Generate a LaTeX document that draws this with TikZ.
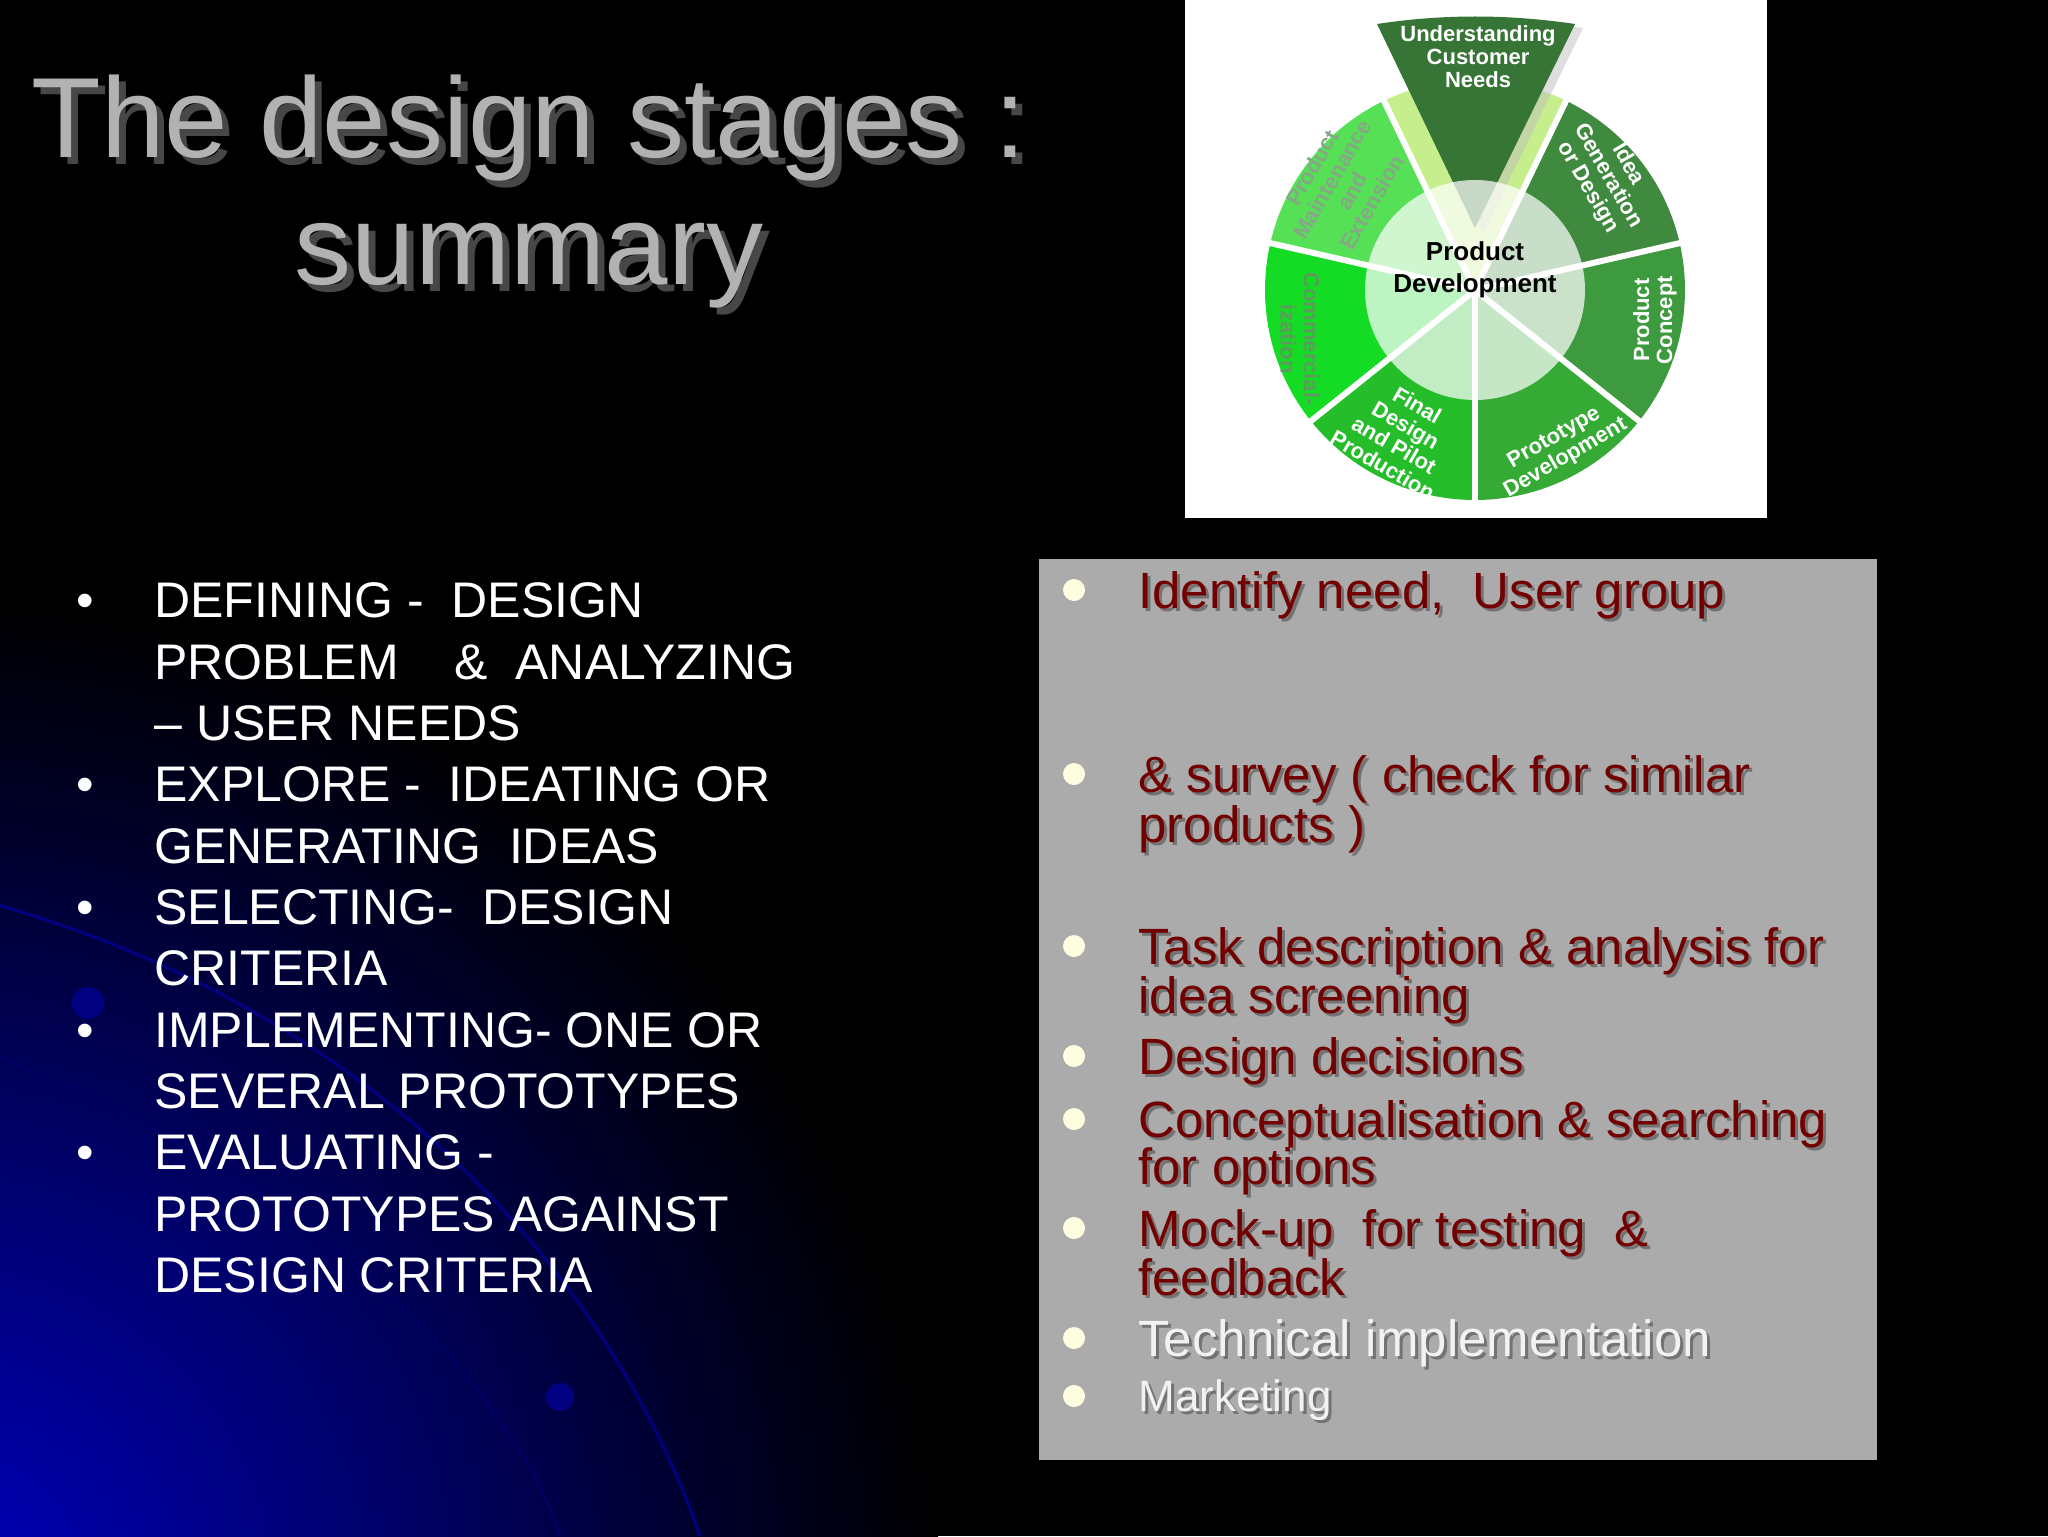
\documentclass[tikz,border=0pt]{standalone}
\usepackage{fontspec}
\setmainfont{Liberation Sans}
\begin{document}
\begin{tikzpicture}[x=0.5pt,y=-0.5pt,
  lt/.style={anchor=base west,text=white,font=\fontsize{25}{30}\selectfont,inner sep=0},
  lb/.style={anchor=base,text=white,font=\fontsize{25}{30}\selectfont,inner sep=0},
  rt/.style={anchor=base west,text=red!45!black,font=\fontsize{25.5}{30}\selectfont,inner sep=0},
  rb/.style={circle,fill=yellow!12,inner sep=0,minimum size=11pt},
  wl/.style={font=\bfseries\fontsize{11}{11.5}\selectfont,align=center,inner sep=0,text=white}]
\definecolor{mt}{HTML}{86A886}\definecolor{ct}{HTML}{5E9A5E}
\useasboundingbox (0,0) rectangle (2048,1536);
\fill[black] (0,0) rectangle (2048,1536);
\begin{scope}
\clip (0,0) rectangle (2048,1536);
\shade[inner color=blue!75!black,outer color=black] (-60,1600) circle[radius=500pt];
\draw[blue!50!black,line width=1.5pt] (-20,900) .. controls (350,1000) and (600,1250) .. (700,1536);
\draw[blue!40!black,line width=1pt] (-20,1050) .. controls (250,1150) and (500,1350) .. (560,1536);
\fill[blue!50!black] (88,1003) circle[radius=8pt];
\fill[blue!50!black] (560,1397) circle[radius=7pt];
\end{scope}
% title
\foreach \x/\y/\c in {7/7/black!72,0/0/black!30}{
\node[text=\c,font=\fontsize{57}{60}\selectfont,inner sep=0] at (529+\x,128+\y) {The design stages :};
\node[text=\c,font=\fontsize{57}{60}\selectfont,inner sep=0] at (529+\x,266+\y) {summary};
}
% left bullets
\foreach \y/\t in {599/{DEFINING -\ \ DESIGN},661/{PROBLEM\ \ \ \ \&\ \ ANALYZING},722/{– USER NEEDS},783/{EXPLORE -\ \ IDEATING OR},845/{GENERATING\ \ IDEAS},906/{SELECTING-\ \ DESIGN},967/{CRITERIA},1029/{IMPLEMENTING- ONE OR},1090/{SEVERAL PROTOTYPES},1151/{EVALUATING -},1213/{PROTOTYPES AGAINST},1274/{DESIGN CRITERIA}}{
\node[lt] at (154,\y+18) {\t};}
\foreach \y/\n in {599/b1,783/b2,906/b3,1029/b4,1151/b5}{\node[lb] (\n) at (85,\y+18) {•};}
% right box
\fill[black!33] (1039,559) rectangle (1877,1460);
\foreach \y/\n in {590/r1,774/r2,946/r3,1056/r4,1119/r5,1228/r6,1338/r7,1396/r8}{\node[rb] (\n) at (1074,\y) {};}
\foreach \x/\y/\c in {3/3/black!55,0/0/red!45!black}{
\foreach \yy/\t in {590/{Identify need,\ \ User group},774/{\& survey ( check for similar},824/{products )},946/{Task description \& analysis for},995/{idea screening},1056/{Design decisions},1119/{Conceptualisation \& searching},1166/{for options},1228/{Mock-up\ \ for testing\ \ \&},1277/{feedback}}{
\node[rt,text=\c] at (1138+\x,\yy+18+\y) {\t};}
}
\node[rt,text=black!55] at (1141,1359) {Technical implementation};
\node[rt,text=black!5] at (1138,1356) {Technical implementation};
\node[rt,text=black!55,font=\fontsize{22}{24}\selectfont] at (1141,1414) {Marketing};
\node[rt,text=black!5,font=\fontsize{22}{24}\selectfont] at (1138,1411) {Marketing};
% wheel
\fill[white] (1185,0) rectangle (1767,518);
\begin{scope}[shift={(1475,290)},x=0.5pt,y=0.5pt]
\definecolor{s1}{HTML}{C6EE8C}\definecolor{s2}{HTML}{3F8A3F}\definecolor{s3}{HTML}{3E9A3E}
\definecolor{s4}{HTML}{35AA35}\definecolor{s5}{HTML}{25BE2A}\definecolor{s6}{HTML}{14DC24}\definecolor{s7}{HTML}{55E055}
\foreach \a/\c in {64.3/s1,12.9/s2,-38.6/s3,-90/s4,-141.4/s5,167.1/s6,115.7/s7}{
  \fill[\c] (0,0) -- (\a:105pt) arc[start angle=\a,end angle=\a+51.43,radius=105pt] -- cycle;}
\fill[black!25,opacity=0.5] (4pt,28pt) -- (-46pt,131pt) .. controls (-14pt,137pt) and (14pt,137pt) .. (54pt,131pt) -- cycle;
\fill[s2!85!black] (0,31pt) -- (-49pt,133pt) .. controls (-16pt,138pt) and (16pt,138pt) .. (50pt,133pt) -- cycle;
\fill[white,opacity=0.72] (0,0) circle[radius=55pt];
\foreach \a in {64.3,12.9,-38.6,-90,-141.4,167.1,115.7}{\draw[white,line width=3pt] (0,0) -- (\a:106pt);}
\foreach \a in {64.3,12.9,-38.6,-90,-141.4,167.1,115.7}{\draw[white,opacity=0.5,line width=3pt] (0,0) -- (\a:55pt);}
\end{scope}
\node[wl] (w0) at (1478,57) {Understanding\\Customer\\Needs};
\node[wl,text=black,font=\bfseries\fontsize{13}{16}\selectfont] (wc) at (1475,270) {Product\\Development};
\node[wl,text=mt,rotate=60] (w1) at (1342,185) {Product\\Maintenance\\and\\Extension};
\node[wl,rotate=-60] (w2) at (1608,176) {Idea\\Generation\\or Design};
\node[wl,rotate=90] (w3) at (1655,320) {Product\\Concept};
\node[wl,rotate=30] (w4) at (1560,448) {Prototype\\Development};
\node[wl,rotate=-30] (w5) at (1400,435) {Final\\Design\\and Pilot\\Production};
\node[wl,text=ct,rotate=-90] (w6) at (1300,339) {Commercial-\\ization};
\end{tikzpicture}
\end{document}
